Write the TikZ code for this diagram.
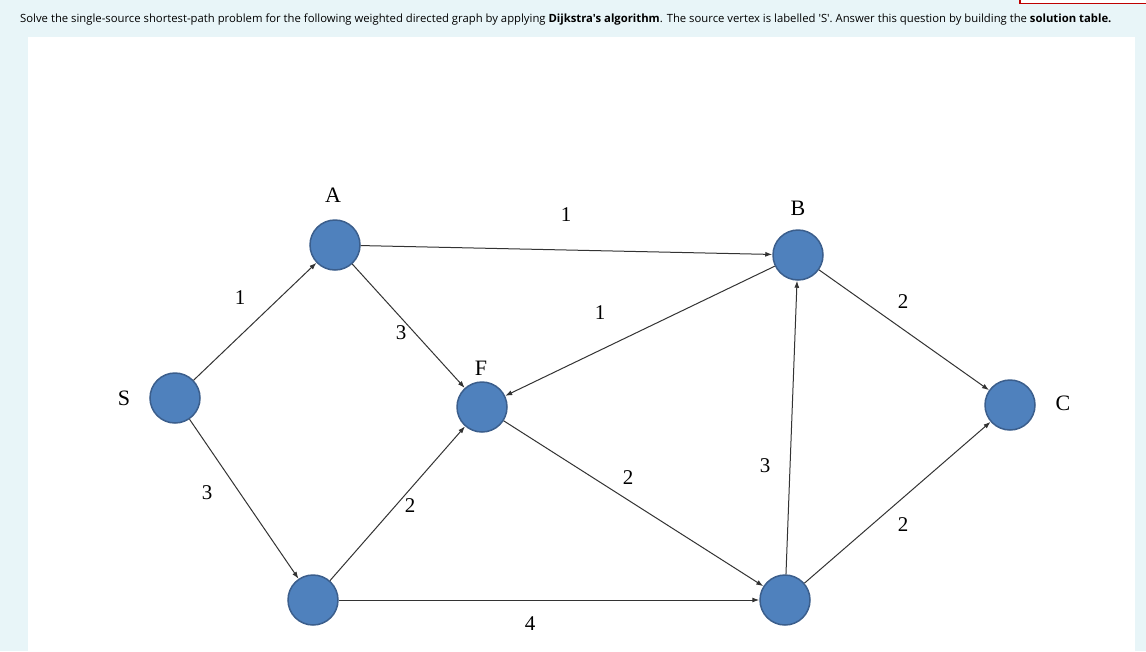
\documentclass[tikz,border=0pt]{standalone}
\usepackage{fontspec}
\setmainfont{Liberation Serif}
\newfontfamily\uifont{Open Sans}
\usetikzlibrary{arrows.meta}
\definecolor{bgc}{HTML}{E8F5F8}
\definecolor{nfill}{HTML}{4F81BD}
\definecolor{nline}{HTML}{3B5E8C}
\begin{document}
\begin{tikzpicture}[x=1pt,y=-1pt,
  vtx/.style={circle,minimum size=50pt,fill=nfill,draw=nline,line width=1.5pt,inner sep=0pt},
  lbl/.style={font=\fontsize{22}{22}\selectfont},
  wt/.style={font=\fontsize{21}{21}\selectfont},
  edge/.style={draw=black!80,line width=1pt,-{Latex[length=7pt,width=5pt]}}]
\useasboundingbox (0,0) rectangle (1146,651);
\clip (0,0) rectangle (1146,651);
\fill[bgc] (0,0) rectangle (1146,651);
\fill[white] (28,37) rectangle (1135,660);
\draw[red!75!black,line width=1.2pt,fill=white] (1020,-5) rectangle (1150,3.5);
\node[anchor=west,font=\uifont\fontsize{11.3}{13}\selectfont,inner sep=0pt] (title) at (20,20) {Solve the single-source shortest-path problem for the following weighted directed graph by applying \textbf{Dijkstra's algorithm}. The source vertex is labelled {'}S'. Answer this question by building the \textbf{solution table.}};
\node[vtx] (A) at (335,245) {};
\node[vtx] (B) at (798,255) {};
\node[vtx] (S) at (175,398) {};
\node[vtx] (F) at (482,407) {};
\node[vtx] (C) at (1010,405) {};
\node[vtx] (E) at (313,600) {};
\node[vtx] (D) at (785,600) {};
\node[lbl] (lA) at (333,195) {A};
\node[lbl] (lB) at (798,208) {B};
\node[lbl] (lS) at (124,398) {S};
\node[lbl] (lF) at (481,368) {F};
\node[lbl] (lC) at (1063,403) {C};
\node[lbl] (lE) at (313,660) {E};
\node[lbl] (lD) at (785,660) {D};
\draw[edge] (S) -- (A);
\draw[edge] (S) -- (E);
\draw[edge] (A) -- (B);
\draw[edge] (A) -- (F);
\draw[edge] (B) -- (F);
\draw[edge] (B) -- (C);
\draw[edge] (F) -- (D);
\draw[edge] (E) -- (F);
\draw[edge] (E) -- (D);
\draw[edge] (D) -- (B);
\draw[edge] (D) -- (C);
\node[wt] (w1) at (566,215) {1};
\node[wt] (w2) at (240,298) {1};
\node[wt] (w3) at (401,333) {3};
\node[wt] (w4) at (600,313) {1};
\node[wt] (w5) at (903,302) {2};
\node[wt] (w6) at (207,493) {3};
\node[wt] (w7) at (410,506) {2};
\node[wt] (w8) at (628,478) {2};
\node[wt] (w9) at (765,466) {3};
\node[wt] (w10) at (903,525) {2};
\node[wt] (w11) at (530,624) {4};
\end{tikzpicture}
\end{document}
